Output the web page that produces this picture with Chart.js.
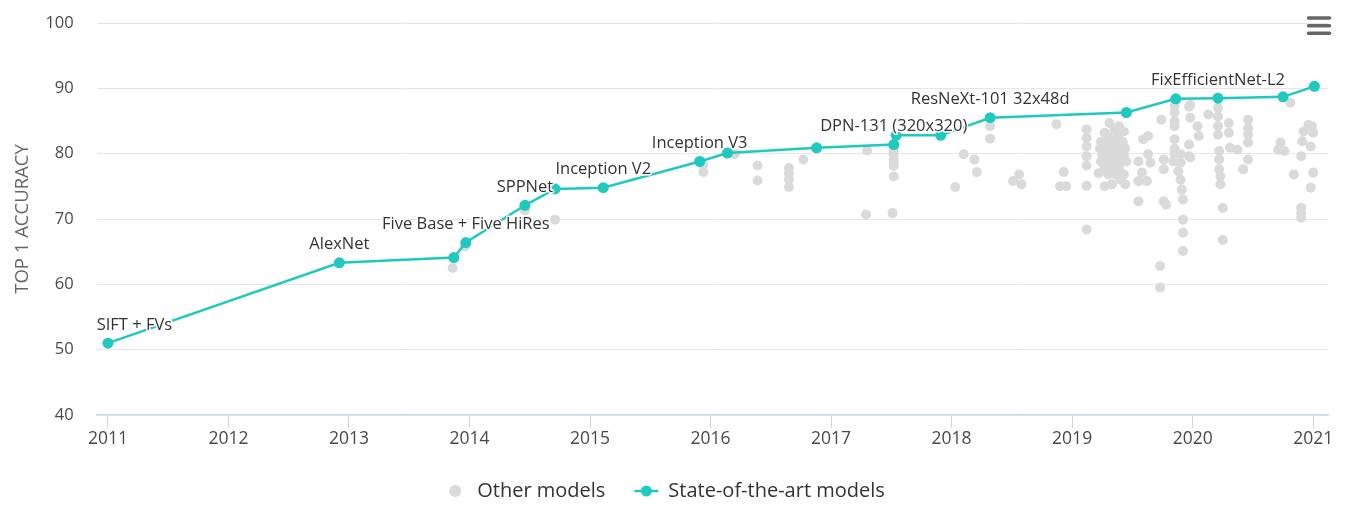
<!DOCTYPE html>
<html>
<head>
<meta charset="utf-8">
<title>Image Classification on ImageNet</title>
<script src="https://cdn.jsdelivr.net/npm/chart.js@4"></script>
<style>
  html, body { margin: 0; padding: 0; background: #fff; }
  #wrap { position: relative; width: 1358px; height: 530px; }
</style>
</head>
<body>
<div id="wrap"><canvas id="sotaChart"></canvas></div>
<script>
// State-of-the-art models (year as decimal, top-1 accuracy)
const sotaYears = [2011.00, 2012.92, 2013.87, 2013.97, 2014.46, 2014.71, 2015.11, 2015.91, 2016.14, 2016.88,
    2017.52, 2017.54, 2017.91, 2018.32, 2019.45, 2019.86, 2020.21, 2020.75, 2021.01];
const sotaAcc = [51.0, 63.3, 64.1, 66.4, 72.1, 74.6, 74.8, 78.8, 80.1, 80.9,
    81.4, 82.8, 82.8, 85.5, 86.3, 88.4, 88.5, 88.7, 90.3];
const sotaNames = ['SIFT + FVs', 'AlexNet', '', 'Five Base + Five HiRes', 'SPPNet', '', 'Inception V2', 'Inception V3', '', '',
    'DPN-131 (320x320)', '', '', 'ResNeXt-101 32x48d', '', '', 'FixEfficientNet-L2', '', ''];

// Other models
const otherYears = [
    2013.86, 2013.96, 2014.46, 2014.71, 2015.94, 2015.94, 2016.20, 2016.39, 2016.39, 2016.65,
    2016.65, 2016.65, 2016.65, 2016.77, 2017.30, 2017.29, 2017.51, 2017.52, 2017.52, 2017.52,
    2017.52, 2017.52, 2017.52, 2017.52, 2018.10, 2018.03, 2018.19, 2018.21, 2018.32, 2018.32,
    2018.51, 2018.56, 2018.58, 2018.87, 2018.93, 2018.90, 2018.95, 2019.12, 2019.12, 2019.12,
    2019.12, 2019.12, 2019.12, 2019.12,
    2019.31, 2019.39, 2019.43, 2019.27, 2019.35, 2019.30, 2019.38,
    2019.24, 2019.30, 2019.36, 2019.42,
    2019.23, 2019.28, 2019.33, 2019.39, 2019.44,
    2019.25, 2019.31, 2019.37, 2019.43,
    2019.24, 2019.29, 2019.34, 2019.40, 2019.45,
    2019.27, 2019.33, 2019.39,
    2019.30, 2019.36, 2019.43,
    2019.27, 2019.33, 2019.40, 2019.44, 2019.22,
    2019.59, 2019.63, 2019.55, 2019.63, 2019.65, 2019.58, 2019.62, 2019.55, 2019.55,
    2019.74, 2019.76, 2019.76, 2019.76, 2019.78, 2019.73, 2019.73,
    2019.85, 2019.85, 2019.85, 2019.85, 2019.85, 2019.85, 2019.85, 2019.90, 2019.84, 2019.88,
    2019.90, 2019.91, 2019.92, 2019.92, 2019.92, 2019.92, 2019.90,
    2019.98, 2019.97, 2019.98, 2019.97, 2019.98, 2020.04, 2020.05, 2019.97,
    2020.13, 2020.21, 2020.21, 2020.21, 2020.21, 2020.22, 2020.22, 2020.22, 2020.23, 2020.23,
    2020.25, 2020.25,
    2020.30, 2020.30, 2020.31, 2020.37,
    2020.46, 2020.46, 2020.46, 2020.46, 2020.46, 2020.42,
    2020.73, 2020.71, 2020.76, 2020.81,
    2020.96, 2020.99, 2020.92, 2021.00, 2020.91, 2020.98, 2020.90, 2020.84, 2021.00, 2020.98,
    2020.90, 2020.90, 2020.90
];
const otherAcc = [
    62.5, 65.8, 71.3, 69.9, 78.3, 77.2, 79.9, 78.2, 75.9, 77.8,
    77.0, 76.1, 74.9, 79.1, 80.5, 70.7, 70.9, 81.1, 80.4, 79.9,
    79.1, 78.6, 78.1, 76.5, 79.9, 74.9, 79.1, 77.2, 84.2, 82.3,
    75.8, 76.8, 75.3, 84.5, 77.2, 75.0, 75.0, 83.7, 82.4, 81.1,
    79.6, 78.2, 75.1, 68.4,
    84.7, 84.2, 83.4, 83.2, 83.8, 82.6, 82.8,
    81.8, 81.8, 81.8, 81.8,
    80.8, 80.8, 80.8, 80.8, 80.8,
    79.8, 79.8, 79.8, 79.8,
    78.8, 78.8, 78.8, 78.8, 78.8,
    77.8, 77.8, 77.8,
    76.8, 76.8, 76.8,
    75.0, 75.3, 76.0, 75.3, 77.0,
    82.2, 82.7, 78.8, 79.9, 78.6, 77.1, 75.8, 75.8, 72.7,
    85.2, 79.1, 77.6, 72.7, 72.2, 62.8, 59.5,
    87.3, 86.3, 85.0, 84.2, 82.2, 80.8, 79.9, 79.9, 78.8, 77.3,
    76.0, 74.5, 73.0, 69.9, 67.9, 65.1, 78.6,
    87.5, 87.2, 85.5, 81.4, 79.4, 84.2, 82.7, 79.6,
    86.0, 87.0, 85.7, 84.2, 82.9, 80.4, 79.1, 77.6, 76.5, 75.3,
    71.7, 66.8,
    84.7, 83.2, 80.9, 80.6,
    85.2, 83.9, 82.9, 81.7, 79.1, 77.6,
    81.7, 80.6, 80.4, 87.8,
    84.4, 84.2, 83.4, 83.2, 81.9, 81.1, 79.6, 76.8, 77.1, 74.8,
    71.7, 70.9, 70.2
];

const yearTicks = [2011, 2012, 2013, 2014, 2015, 2016, 2017, 2018, 2019, 2020, 2021];

const teal = '#20c9bf';
const grey = '#dadada';

Chart.defaults.font.family = "'Open Sans', sans-serif";

// small images used as legend symbols
function legendSymbol(withLine, color, r) {
    const c = document.createElement('canvas');
    c.width = 26;
    c.height = 14;
    const g = c.getContext('2d');
    if (withLine) {
        g.strokeStyle = color;
        g.lineWidth = 2.5;
        g.beginPath();
        g.moveTo(1, 7);
        g.lineTo(25, 7);
        g.stroke();
    }
    g.fillStyle = color;
    g.beginPath();
    g.arc(13, 7, r, 0, Math.PI * 2);
    g.fill();
    return c;
}

const sotaLabels = {
    id: 'sotaLabels',
    afterDatasetsDraw(chart) {
        const ctx = chart.ctx;
        const area = chart.chartArea;
        const meta = chart.getDatasetMeta(1);
        ctx.save();
        ctx.font = "16.5px 'Open Sans', sans-serif";
        ctx.textAlign = 'center';
        ctx.textBaseline = 'middle';
        ctx.lineJoin = 'round';
        meta.data.forEach((pt, i) => {
            const name = sotaNames[i];
            if (!name) return;
            const w = ctx.measureText(name).width;
            const x = Math.min(Math.max(pt.x, area.left + w / 2), area.right - w / 2);
            const y = pt.y - 18;
            ctx.strokeStyle = '#fff';
            ctx.lineWidth = 3;
            ctx.strokeText(name, x, y);
            ctx.fillStyle = '#333';
            ctx.fillText(name, x, y);
        });
        ctx.restore();
    }
};

// export menu button in the top right corner
const menuIcon = {
    id: 'menuIcon',
    afterDraw(chart) {
        const ctx = chart.ctx;
        ctx.save();
        ctx.strokeStyle = '#666';
        ctx.lineWidth = 3.5;
        ctx.lineCap = 'round';
        [18, 25.7, 33.3].forEach(y => {
            ctx.beginPath();
            ctx.moveTo(1308.5, y);
            ctx.lineTo(1329.5, y);
            ctx.stroke();
        });
        ctx.restore();
    }
};

new Chart(document.getElementById('sotaChart').getContext('2d'), {
    type: 'scatter',
    data: {
        datasets: [{
            label: 'Other models',
            data: otherYears.map((x, i) => ({x: x, y: otherAcc[i]})),
            backgroundColor: grey,
            borderWidth: 0,
            pointRadius: 5,
            order: 1,
        }, {
            label: 'State-of-the-art models',
            data: sotaYears.map((x, i) => ({x: x, y: sotaAcc[i]})),
            showLine: true,
            borderColor: teal,
            backgroundColor: teal,
            borderWidth: 2.5,
            pointRadius: 5.5,
            pointBorderWidth: 0,
            order: 0,
        }]
    },
    options: {
        responsive: true,
        maintainAspectRatio: false,
        animation: false,
        layout: {
            padding: {top: 23, right: 30, bottom: 19, left: 0}
        },
        plugins: {
            tooltip: {enabled: false},
            legend: {
                position: 'bottom',
                labels: {
                    usePointStyle: true,
                    pointStyleWidth: 24,
                    padding: 29,
                    color: '#333',
                    font: {size: 20},
                    generateLabels: (chart) => [
                        {text: 'Other models', datasetIndex: 0, hidden: false, lineWidth: 0,
                            fontColor: '#333', pointStyle: legendSymbol(false, grey, 6)},
                        {text: 'State-of-the-art models', datasetIndex: 1, hidden: false, lineWidth: 0,
                            fontColor: '#333', pointStyle: legendSymbol(true, teal, 5.5)}
                    ]
                }
            }
        },
        scales: {
            x: {
                type: 'linear',
                min: 2010.907,
                max: 2021.123,
                afterBuildTicks: (scale) => {
                    scale.ticks = yearTicks.map(v => ({value: v}));
                },
                afterFit: (scale) => {
                    scale.height = 37;
                },
                ticks: {
                    color: '#4a4a4a',
                    font: {size: 17.5},
                    padding: 1,
                    maxRotation: 0,
                    callback: (value) => String(value)
                },
                grid: {
                    drawOnChartArea: false,
                    drawTicks: true,
                    tickLength: 13,
                    color: '#ccd6eb',
                },
                border: {
                    color: '#ccd6eb',
                    width: 1.5
                }
            },
            y: {
                min: 40,
                max: 100,
                afterFit: (scale) => {
                    scale.width = 96.7;
                },
                ticks: {
                    stepSize: 10,
                    color: '#4a4a4a',
                    font: {size: 16.5},
                    padding: 0
                },
                grid: {
                    color: '#e6e6e6',
                    drawTicks: true,
                    tickLength: 23,
                    tickColor: 'rgba(0,0,0,0)'
                },
                border: {
                    display: false
                },
                title: {
                    display: true,
                    text: 'TOP 1 ACCURACY',
                    color: '#666',
                    font: {size: 18.5},
                    padding: {top: 12, bottom: 0}
                }
            }
        }
    },
    plugins: [sotaLabels, menuIcon]
});
</script>
</body>
</html>
